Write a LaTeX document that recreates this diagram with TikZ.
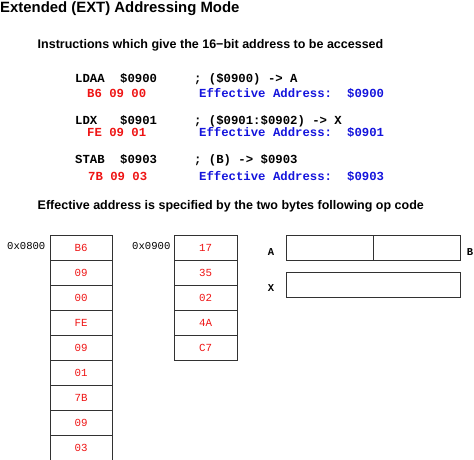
\documentclass[tikz,border=0pt]{standalone}
\usepackage{fontspec}
\setmainfont{Liberation Sans}
\newfontfamily\codefont{Liberation Mono}
\definecolor{codered}{RGB}{238,20,20}
\definecolor{codeblue}{RGB}{20,20,220}
\definecolor{boxline}{RGB}{50,50,50}
\begin{document}
\begin{tikzpicture}[x=1pt,y=-1pt,
  txt/.style={anchor=base west,inner sep=0pt},
  titletxt/.style={txt,font=\fontsize{14.9}{16}\selectfont\bfseries},
  headtxt/.style={txt,font=\fontsize{12.5}{14}\selectfont\bfseries},
  codetxt/.style={txt,font=\codefont\fontsize{12.3}{14}\selectfont\bfseries},
  redcode/.style={codetxt,text=codered},
  bluecode/.style={codetxt,text=codeblue},
  cell/.style={draw=boxline,line width=0.8pt,minimum width=62pt,minimum height=25pt,inner sep=0pt,
    font=\codefont\fontsize{10.8}{12}\selectfont,text=codered},
  reg/.style={draw=boxline,line width=0.8pt,minimum height=25pt,inner sep=0pt},
  addr/.style={txt,font=\codefont\fontsize{10.6}{12}\selectfont},
  reglbl/.style={anchor=base,inner sep=0pt,font=\codefont\fontsize{10.5}{12}\selectfont\bfseries}]
\useasboundingbox (0,0) rectangle (474,460);
\clip (0,0) rectangle (474,460);

\node[titletxt] (title) at (0,12.4) {Extended (EXT) Addressing Mode};
\node[headtxt] (head1) at (37.5,48.5) {Instructions which give the 16{\char"2212}bit address to be accessed};

% code lines
\node[codetxt] (i1) at (75,83) {LDAA};
\node[codetxt] (o1) at (120,83) {\$0900};
\node[codetxt] (c1) at (194,83) {; (\$0900) -> A};
\node[redcode] (b1) at (87,97.3) {B6 09 00};
\node[bluecode] (e1) at (199,97.3) {Effective Address:};
\node[bluecode] (a1) at (347,97.3) {\$0900};

\node[codetxt] (i2) at (75,124.7) {LDX};
\node[codetxt] (o2) at (120,124.7) {\$0901};
\node[codetxt] (c2) at (194,124.7) {; (\$0901:\$0902) -> X};
\node[redcode] (b2) at (87,136.7) {FE 09 01};
\node[bluecode] (e2) at (199,136.7) {Effective Address:};
\node[bluecode] (a2) at (347,136.7) {\$0901};

\node[codetxt] (i3) at (75,163.3) {STAB};
\node[codetxt] (o3) at (120,163.3) {\$0903};
\node[codetxt] (c3) at (194,163.3) {; (B) -> \$0903};
\node[redcode] (b3) at (88,180) {7B 09 03};
\node[bluecode] (e3) at (199,180) {Effective Address:};
\node[bluecode] (a3) at (347,180) {\$0903};

\node[headtxt] (head2) at (37.5,209.5) {Effective address is specified by the two bytes following op code};

% memory at 0x0800
\node[addr] (lbl800) at (7,249) {0x0800};
\foreach \v [count=\i] in {B6,09,00,FE,09,01,7B,09,03}
  \node[cell] (m8\i) at (81,{235+25*\i-12.5}) {\v};

% memory at 0x0900
\node[addr] (lbl900) at (132,249) {0x0900};
\foreach \v [count=\i] in {17,35,02,4A,C7}
  \node[cell,minimum width=62.7pt] (m9\i) at (205.7,{235+25*\i-12.5}) {\v};

% registers
\node[reg,minimum width=86.7pt] (regA) at (330,247.5) {};
\node[reg,minimum width=87.3pt] (regB) at (417,247.5) {};
\node[reg,minimum width=174pt,minimum height=25.4pt] (regX) at (373.7,285) {};
\node[reglbl] (lblA) at (271,255.5) {A};
\node[reglbl] (lblB) at (470,255.5) {B};
\node[reglbl] (lblX) at (271,291.5) {X};
\end{tikzpicture}
\end{document}
